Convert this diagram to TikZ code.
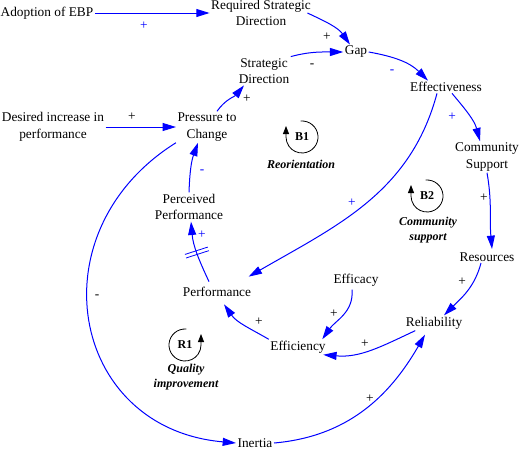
\documentclass[tikz,border=0pt]{standalone}
\usepackage{fontspec}
\setmainfont{Liberation Serif}
\usetikzlibrary{arrows.meta,decorations.markings}
\tikzset{
  var/.style={align=center, inner sep=1pt, font=\fontsize{10}{12.5}\selectfont},
  link/.style={blue, line width=0.75pt, -{Triangle[length=10pt,width=6pt]}},
  sgn/.style={inner sep=0pt, font=\fontsize{10}{12}\selectfont},
  bsgn/.style={sgn, text=blue},
  loopid/.style={inner sep=0pt, font=\bfseries\fontsize{9}{11}\selectfont},
  loopname/.style={align=center, inner sep=0pt, font=\bfseries\itshape\fontsize{9}{11}\selectfont},
  loopturn/.style={line width=0.6pt, -{Triangle[length=6pt,width=4.5pt]}},
  delaymark/.style={postaction={decorate, decoration={markings,
    mark=at position 0.5 with {\draw[blue, line width=0.6pt, -] (-1.4pt,-9pt) -- (-1.4pt,9pt) (1.4pt,-9pt) -- (1.4pt,9pt);}}}},
}
\begin{document}
\begin{tikzpicture}[x=0.75pt,y=0.75pt]
  \useasboundingbox (0,0) rectangle (520,-450);

  \node[var] (adopt) at (47,-13) {Adoption of EBP};
  \node[var] (reqdir) at (261,-13) {Required Strategic\\Direction};
  \node[var] (gap) at (356,-52) {Gap};
  \node[var] (stratdir) at (264,-71) {Strategic\\Direction};
  \node[var] (eff) at (446,-87) {Effectiveness};
  \node[var] (desired) at (53,-127) {Desired increase in\\performance};
  \node[var] (press) at (207,-127) {Pressure to\\Change};
  \node[var] (comm) at (487,-157) {Community\\Support};
  \node[var] (perc) at (189,-207) {Perceived\\Performance};
  \node[var] (res) at (487,-257) {Resources};
  \node[var] (perf) at (217,-292) {Performance};
  \node[var] (effic) at (356,-280) {Efficacy};
  \node[var] (rel) at (434,-323) {Reliability};
  \node[var] (effy) at (298,-347) {Efficiency};
  \node[var] (inert) at (255,-443) {Inertia};

  \draw[link] (adopt) -- (adopt -| reqdir.west);
  \draw[link] ([shift={(-5,0)}]reqdir.east) to[out=-25,in=125] ([shift={(-6,0)}]gap.north);
  \draw[link] (stratdir.north east) to[out=15,in=180] (gap.west);
  \draw[link] (gap.east) to[out=-10,in=135] ([shift={(-18,0)}]eff.north);
  \draw[link] ([shift={(6,0)}]eff.south) to[out=-50,in=105] ([shift={(-7,0)}]comm.north);
  \draw[link] ([shift={(-9,0)}]eff.south) to[out=-105,in=30] ([shift={(-4,9)}]perf.north east);
  \draw[link] ([shift={(10,0)}]press.north) to[out=55,in=-130] ([shift={(-20,0)}]stratdir.south);
  \draw[link] (desired) -- (press);
  \draw[link] (perc.north) to[out=88,in=-110] ([shift={(-9,0)}]press.south);
  \draw[link, delaymark] ([shift={(-8,4)}]perf.north) to[out=115,in=-85] ([shift={(2,0)}]perc.south);
  \draw[link] (press.south west) to[out=212,in=175,looseness=1.4] (inert.west);
  \draw[link] (inert.east) to[out=5,in=-120] ([shift={(-9,-4)}]rel.south);
  \draw[link] (comm.south) to[out=-80,in=95] ([shift={(5,2)}]res.north);
  \draw[link] ([shift={(-6,0)}]res.south) to[out=-105,in=45] ([shift={(10,0)}]rel.north);
  \draw[link] ([shift={(11,0)}]rel.south west) to[out=205,in=-5] ([shift={(-4,0)}]effy.south east);
  \draw[link] ([shift={(-4,-2)}]effic.south) to[out=-85,in=55] ([shift={(-5,0)}]effy.north east);
  \draw[link] (effy.north west) to[out=150,in=-55] ([shift={(7,-6)}]perf.south);

  \node[bsgn] at (144,-26) {+};
  \node[sgn] at (327,-37) {+};
  \node[sgn] at (312,-66) {-};
  \node[bsgn] at (392,-72) {-};
  \node[sgn] at (247,-99) {+};
  \node[sgn] at (132,-117) {+};
  \node[bsgn] at (452,-117) {+};
  \node[bsgn] at (352,-203) {+};
  \node[bsgn] at (202,-172) {-};
  \node[bsgn] at (202,-235) {+};
  \node[sgn] at (484,-198) {+};
  \node[sgn] at (462,-282) {+};
  \node[sgn] at (334,-314) {+};
  \node[sgn] at (259,-322) {+};
  \node[sgn] at (365,-344) {+};
  \node[sgn] at (97,-297) {-};
  \node[sgn] at (370,-399) {+};

  \node[loopid] (b1) at (302,-137) {B1};
  \draw[loopturn] (b1) ++(95:16) arc[start angle=95, end angle=-180, radius=16] -- ++(0,11);
  \node[loopname] (b1name) at (301,-164) {Reorientation};
  \node[loopid] (b2) at (427,-196) {B2};
  \draw[loopturn] (b2) ++(95:16) arc[start angle=95, end angle=-180, radius=16] -- ++(0,11);
  \node[loopname] (b2name) at (428,-230) {Community\\support};
  \node[loopid] (r1) at (185,-345) {R1};
  \draw[loopturn] (r1) ++(85:16) arc[start angle=85, end angle=360, radius=16] -- ++(0,11);
  \node[loopname] (r1name) at (186,-377) {Quality\\improvement};
\end{tikzpicture}
\end{document}
